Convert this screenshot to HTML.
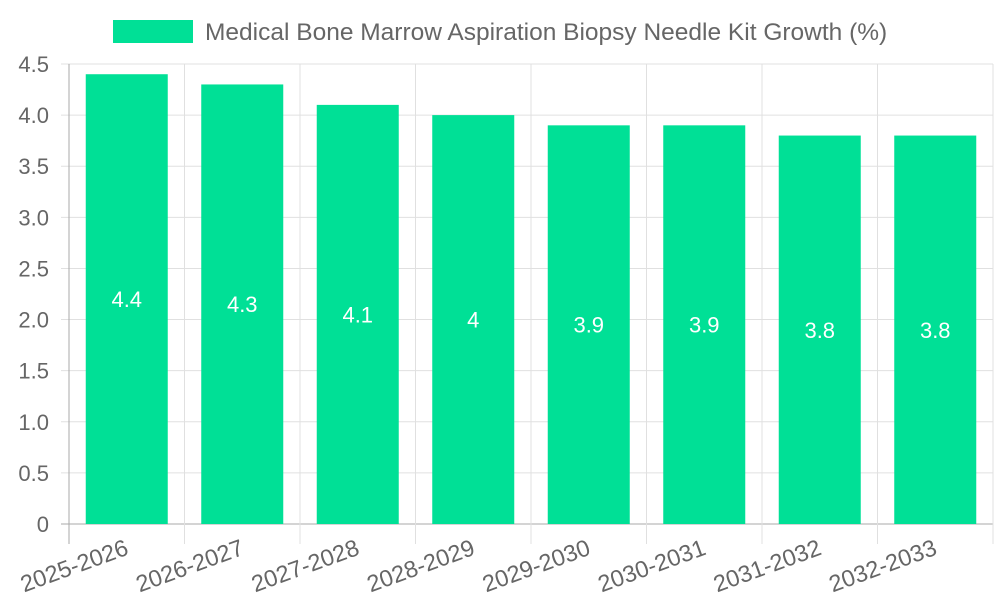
<!DOCTYPE html>
<html><head><meta charset="utf-8"><style>
body{margin:0;background:#fff;}
svg{display:block;font-family:"Liberation Sans",sans-serif;}
</style></head><body>
<svg id="chart" width="1000" height="600">
<g id="legend">
<rect x="113" y="20" width="80" height="23" fill="#00e096"></rect>
<text x="205" y="40" font-size="24.5" fill="#666">Medical Bone Marrow Aspiration Biopsy Needle Kit Growth (%)</text>
</g>
<g id="grid"></g><g id="bars"></g><g id="axes"></g>
</svg>
<script>
const categories=["2025-2026","2026-2027","2027-2028","2028-2029","2029-2030","2030-2031","2031-2032","2032-2033"];
const values=[4.4,4.3,4.1,4,3.9,3.9,3.8,3.8];
const yTicks=[0,0.5,1,1.5,2,2.5,3,3.5,4,4.5];
const yTickLabels=["0","0.5","1.0","1.5","2.0","2.5","3.0","3.5","4.0","4.5"];
const NS="http://www.w3.org/2000/svg";
const L=69,R=993,T=64,B=524,yMax=4.5;
const bw=(R-L)/categories.length;
const y=v=>B-(v/yMax)*(B-T);
const x=i=>L+i*bw;
function mk(tag,attrs,parent){const e=document.createElementNS(NS,tag);for(const k in attrs)e.setAttribute(k,attrs[k]);parent.appendChild(e);return e;}
const grid=document.getElementById('grid'),bars=document.getElementById('bars'),axes=document.getElementById('axes');
yTicks.forEach((t,i)=>{
 const g=mk('line',{x1:L-8,x2:R,y1:y(t),y2:y(t),stroke:i==0?'#aaa':'#e0e0e0','stroke-width':1},grid);
 
 
 const tx=mk('text',{x:L-20,y:y(t)+8,'text-anchor':'end','font-size':22,fill:'#666'},axes);
 tx.textContent=yTickLabels[i];
 
 
});
for(let i=0;i<=categories.length;i++){
 const g=mk('line',{x1:x(i),x2:x(i),y1:T,y2:B+20,stroke:i==0?'#aaa':'#e0e0e0','stroke-width':1},grid);
 
 
}
categories.forEach((c,i)=>{
 const bx=x(i)+bw*0.145,w=bw*0.71;
 const r=mk('rect',{x:bx,y:y(values[i]),width:w,height:B-y(values[i]),fill:'#00e096'},bars);
 
 
 const v=mk('text',{x:x(i)+bw/2,y:(y(values[i])+B)/2+8,'text-anchor':'middle','font-size':22,fill:'#fff'},bars);
 v.textContent=String(values[i]);
 
 
 const cx=x(i)+bw/2+3;
 const t=mk('text',{x:cx,y:B+30,'text-anchor':'end','font-size':23.5,fill:'#666',transform:`rotate(-20 ${cx} ${B+30})`},axes);
 t.textContent=c;
 
 
});
</script>
</body></html>
